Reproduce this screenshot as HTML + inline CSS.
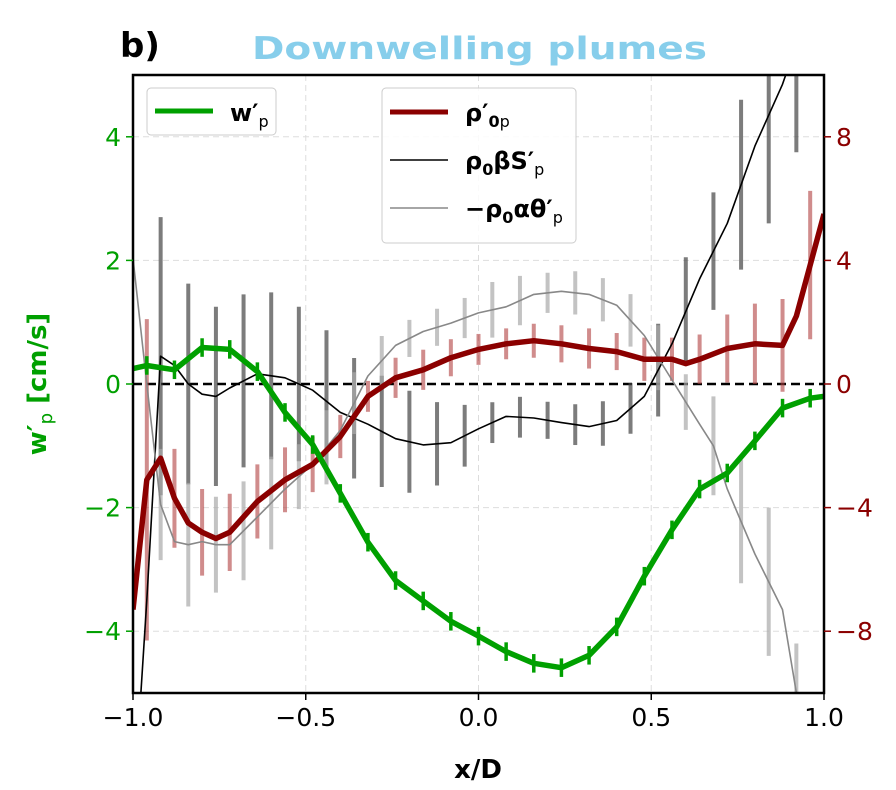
<!DOCTYPE html>
<html><head><meta charset="utf-8"><style>
body{margin:0;background:#fff;}
svg{display:block;font-family:"DejaVu Sans","Liberation Sans",sans-serif;}
</style></head><body>
<svg id="c" width="896" height="790" viewBox="0 0 896 790">
<defs><clipPath id="pc"><rect x="133" y="75" width="691" height="618"/></clipPath></defs>
<text x="120" y="57" font-size="34" font-weight="bold">b)</text>
<text x="252" y="59" font-size="31" font-weight="bold" fill="#87ceeb" textLength="455" lengthAdjust="spacingAndGlyphs">Downwelling plumes</text>
<g id="grid"></g>
<g id="series" clip-path="url(#pc)"></g>
<rect x="133" y="75" width="691" height="618" fill="none" stroke="#000" stroke-width="2.5"/>
<g id="axes"></g>
<text transform="translate(46,384) rotate(-90)" font-size="26" font-weight="bold" fill="#00a000" text-anchor="middle">w′<tspan font-size="18" dy="6" font-weight="normal">p</tspan><tspan dy="-6"> [cm/s]</tspan></text>
<text x="478" y="778" font-size="26" font-weight="bold" text-anchor="middle">x/D</text>
<g>
<rect x="147" y="88" width="129" height="47" rx="4" fill="#fff" fill-opacity="0.85" stroke="#ccc"/>
<line x1="155" y1="111" x2="213" y2="111" stroke="#00a000" stroke-width="5"/>
<text x="230" y="121" font-size="24" font-weight="bold">w′<tspan font-size="16" dy="6" font-weight="normal">p</tspan></text>
</g>
<g>
<rect x="382" y="88" width="194" height="155" rx="4" fill="#fff" fill-opacity="0.85" stroke="#ccc"/>
<line x1="390" y1="112" x2="448" y2="112" stroke="#8b0000" stroke-width="5"/>
<text x="465" y="121" font-size="24" font-weight="bold">ρ′<tspan font-size="16" dy="6">0</tspan><tspan font-size="16" font-weight="normal">p</tspan></text>
<line x1="390" y1="160" x2="448" y2="160" stroke="#000" stroke-width="1.5"/>
<text x="465" y="169" font-size="24" font-weight="bold">ρ<tspan font-size="16" dy="6">0</tspan><tspan dy="-6">βS′</tspan><tspan font-size="16" dy="6" font-weight="normal">p</tspan></text>
<line x1="390" y1="208" x2="448" y2="208" stroke="#888" stroke-width="1.5"/>
<text x="465" y="217" font-size="24" font-weight="bold">−ρ<tspan font-size="16" dy="6">0</tspan><tspan dy="-6">αθ′</tspan><tspan font-size="16" dy="6" font-weight="normal">p</tspan></text>
</g>
</svg>
<script>
const xTicks=[-1.0,-0.5,0.0,0.5,1.0];
const xTickLabels=["−1.0","−0.5","0.0","0.5","1.0"];
const yLeftTicks=[-4,-2,0,2,4];
const yLeftLabels=["−4","−2","0","2","4"];
const yRightTicks=[-8,-4,0,4,8];
const yRightLabels=["−8","−4","0","4","8"];
const wX=[-1,-0.96,-0.88,-0.80,-0.72,-0.64,-0.56,-0.48,-0.40,-0.32,-0.24,-0.16,-0.08,0,0.08,0.16,0.24,0.32,0.40,0.48,0.56,0.64,0.72,0.80,0.88,0.96,1];
const wVals=[0.25,0.30,0.23,0.59,0.56,0.20,-0.46,-0.98,-1.77,-2.56,-3.18,-3.51,-3.84,-4.08,-4.33,-4.52,-4.59,-4.39,-3.93,-3.11,-2.36,-1.70,-1.44,-0.92,-0.39,-0.23,-0.2];
const wErr=[0,0.15,0.15,0.15,0.15,0.15,0.15,0.15,0.15,0.15,0.15,0.15,0.15,0.15,0.15,0.15,0.15,0.15,0.15,0.15,0.15,0.15,0.15,0.15,0.15,0.15,0];
const rX=[-1,-0.96,-0.92,-0.88,-0.84,-0.80,-0.76,-0.72,-0.64,-0.56,-0.48,-0.40,-0.32,-0.24,-0.16,-0.08,0,0.08,0.16,0.24,0.32,0.40,0.48,0.56,0.60,0.64,0.72,0.80,0.88,0.92,1];
const rVals=[-7.3,-3.1,-2.4,-3.7,-4.5,-4.8,-5.0,-4.8,-3.8,-3.1,-2.6,-1.7,-0.4,0.2,0.46,0.85,1.12,1.3,1.4,1.3,1.15,1.05,0.8,0.8,0.66,0.8,1.15,1.3,1.25,2.2,5.5];
const rBarX=[-0.96,-0.88,-0.80,-0.72,-0.64,-0.56,-0.48,-0.40,-0.32,-0.24,-0.16,-0.08,0,0.08,0.16,0.24,0.32,0.40,0.48,0.56,0.64,0.72,0.80,0.88,0.96];
const rErr=[5.2,1.6,1.4,1.25,1.2,1.05,0.9,0.7,0.5,0.65,0.65,0.6,0.5,0.5,0.55,0.6,0.65,0.6,0.7,0.7,0.8,1.1,1.3,1.5,2.4];
const sX=[-1,-0.96,-0.92,-0.88,-0.84,-0.80,-0.76,-0.72,-0.64,-0.56,-0.48,-0.40,-0.32,-0.24,-0.16,-0.08,0,0.08,0.16,0.24,0.32,0.40,0.48,0.56,0.64,0.72,0.80,0.88,0.92];
const sVals=[-14,-7,0.9,0.6,0,-0.33,-0.4,-0.13,0.33,0.2,-0.2,-0.92,-1.3,-1.77,-1.97,-1.9,-1.45,-1.05,-1.1,-1.25,-1.38,-1.18,-0.4,1.3,3.4,5.2,7.7,9.7,11];
const tX=[-1,-0.96,-0.92,-0.88,-0.84,-0.80,-0.76,-0.72,-0.64,-0.56,-0.48,-0.40,-0.32,-0.24,-0.16,-0.08,0,0.08,0.16,0.24,0.32,0.40,0.48,0.56,0.64,0.68,0.72,0.80,0.88,0.92];
const tVals=[4.07,0,-3.9,-5.1,-5.2,-5.1,-5.2,-5.2,-4.3,-3.4,-2.6,-1.5,0.26,1.25,1.7,1.97,2.3,2.5,2.9,3.0,2.9,2.55,1.57,0.13,-1.3,-2.0,-3.4,-5.5,-7.3,-10];
const stBarX=[-0.92,-0.84,-0.76,-0.68,-0.60,-0.52,-0.44,-0.36,-0.28,-0.20,-0.12,-0.04,0.04,0.12,0.20,0.28,0.36,0.44,0.52,0.60,0.68,0.76,0.84,0.92];
const sErr=[4.5,3.25,2.9,2.8,2.7,2.5,2.3,1.95,1.8,1.65,1.35,1.0,0.66,0.66,0.6,0.66,0.72,0.82,1.5,1.75,1.9,2.75,3.5,3.5];
const tErr=[1.8,2.0,1.55,1.6,1.5,1.05,1.2,1.0,0.8,0.6,0.6,0.65,0.9,0.8,0.65,0.7,0.7,0.85,1.05,0.9,1.6,2.0,2.4,1.6];

const L=133,R=824,T=75,B=693;
const X=v=>L+(v+1)/2*(R-L);
const YL=v=>(T+B)/2-v/10*(B-T);
const YR=v=>(T+B)/2-v/20*(B-T);
const NS="http://www.w3.org/2000/svg";
function mk(tag,attrs,parent){const e=document.createElementNS(NS,tag);for(const k in attrs)e.setAttribute(k,attrs[k]);parent.appendChild(e);return e;}
function interp(xs,ys,x){for(let i=0;i<xs.length-1;i++){if(x>=xs[i]&&x<=xs[i+1]){const t=(x-xs[i])/(xs[i+1]-xs[i]);return ys[i]+t*(ys[i+1]-ys[i]);}}return ys[ys.length-1];}
const grid=document.getElementById('grid'),ser=document.getElementById('series'),axes=document.getElementById('axes');
xTicks.forEach((t,i)=>{
 if(i>0&&i<xTicks.length-1){const g=mk('line',{x1:X(t),x2:X(t),y1:T,y2:B,stroke:'#ddd','stroke-dasharray':'6,4','stroke-width':1},grid);
 
 }
 const tk=mk('line',{x1:X(t),x2:X(t),y1:B,y2:B+7,stroke:'#000','stroke-width':1.5},axes);
 
 
 const tx=mk('text',{x:X(t),y:B+33,'font-size':25,'text-anchor':'middle'},axes);tx.textContent=xTickLabels[i];
 
 
});
yLeftTicks.forEach((t,i)=>{
 if(t!==0){const g=mk('line',{x1:L,x2:R,y1:YL(t),y2:YL(t),stroke:'#ddd','stroke-dasharray':'6,4','stroke-width':1},grid);
 
 }
 const tk=mk('line',{x1:L-7,x2:L,y1:YL(t),y2:YL(t),stroke:'#00a000','stroke-width':1.5},axes);
 
 
 const tx=mk('text',{x:L-12,y:YL(t)+9,'font-size':25,'text-anchor':'end',fill:'#00a000'},axes);tx.textContent=yLeftLabels[i];
 
 
});
yRightTicks.forEach((t,i)=>{
 const tk=mk('line',{x1:R,x2:R+7,y1:YR(t),y2:YR(t),stroke:'#8b0000','stroke-width':1.5},axes);
 
 
 const tx=mk('text',{x:R+12,y:YR(t)+9,'font-size':25,fill:'#8b0000'},axes);tx.textContent=yRightLabels[i];
 
 
});
const z=mk('line',{x1:L,x2:R,y1:YL(0),y2:YL(0),stroke:'#000','stroke-width':2.5,'stroke-dasharray':'9,5'},ser);


function bars(xs,vx,vy,err,Y,color,op,w,name){xs.forEach((x,i)=>{const c=interp(vx,vy,x);const b=mk('line',{x1:X(x),x2:X(x),y1:Y(c-err[i]),y2:Y(c+err[i]),stroke:color,'stroke-opacity':op,'stroke-width':w},ser);
 
 });}
function line(xs,ys,Y,color,w,name){const d=xs.map((x,i)=>(i?'L':'M')+X(x).toFixed(1)+','+Y(ys[i]).toFixed(1)).join('');const p=mk('path',{d:d,fill:'none',stroke:color,'stroke-width':w,'stroke-linejoin':'round'},ser);
 
 }
bars(stBarX,sX,sVals,sErr,YR,'#444',0.7,4,'salinity-errorbar');
bars(stBarX,tX,tVals,tErr,YR,'#aaa',0.7,4,'temperature-errorbar');
bars(rBarX,rX,rVals,rErr,YR,'#b04040',0.6,4,'rho0p-errorbar');
line(sX,sVals,YR,'#000',1.6,'salinity-line');
line(tX,tVals,YR,'#888',1.6,'temperature-line');
line(rX,rVals,YR,'#8b0000',5.5,'rho0p-line');
line(wX,wVals,YL,'#00a000',5.5,'w-line');
wX.forEach((x,i)=>{if(wErr[i]>0){const b=mk('line',{x1:X(x),x2:X(x),y1:YL(wVals[i]-wErr[i]),y2:YL(wVals[i]+wErr[i]),stroke:'#00a000','stroke-width':3.5},ser);
 
 }});
</script>
</body></html>
